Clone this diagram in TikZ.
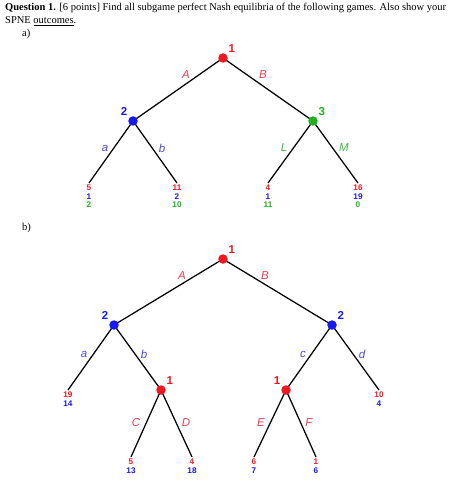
\documentclass[tikz,border=0pt]{standalone}
\usepackage{fontspec}
\setmainfont{Liberation Serif}
\setsansfont{Liberation Sans}
\usepackage[rgb]{xcolor}
\usepackage{tikz}
\usetikzlibrary{positioning}
\definecolor{pone}{HTML}{F01820}
\definecolor{ptwo}{HTML}{1818F0}
\definecolor{pthree}{HTML}{20B020}
\definecolor{moveone}{HTML}{E8404F}
\definecolor{movetwo}{HTML}{4848E0}
\definecolor{movethree}{HTML}{40B840}

\tikzset{
    branch/.style={black, line width=1.25pt},
    dec/.style={circle, fill, inner sep=0pt, minimum size=9.5pt},
    who/.style={font=\sffamily\bfseries\fontsize{11.5}{11.5}\selectfont, inner sep=2pt},
    act/.style={font=\sffamily\itshape\fontsize{11.5}{11.5}\selectfont},
    pay/.style={font=\sffamily\bfseries\fontsize{8.2}{8.7}\selectfont, align=center, anchor=north, inner sep=1.5pt},
    head/.style={font=\fontsize{10.5}{12}\selectfont, anchor=west, inner sep=0pt},
}

\begin{document}
\begin{tikzpicture}[x=1pt, y=-1pt]

\useasboundingbox (0,0) rectangle (474,497);

% Question text
\node[head] (qline) at (5,8) {\textbf{Question 1.} [6 points] Find all subgame perfect Nash equilibria of the following games. Also show your};
\node[head] (qsecond) at (5,21) {SPNE \underline{outcomes}.};
\node[head] (parta) at (22,34) {a)};
\node[head] (partb) at (22,228) {b)};

% Game a)
\coordinate (aroot) at (223,58);
\coordinate (atwo) at (133,121);
\coordinate (athree) at (313,121);
\coordinate (aleafa) at (89,183);
\coordinate (aleafb) at (177,183);
\coordinate (aleafL) at (268,183);
\coordinate (aleafM) at (358,183);

\draw[branch] (aroot) -- (atwo);
\draw[branch] (aroot) -- (athree);
\draw[branch] (atwo) -- (aleafa);
\draw[branch] (atwo) -- (aleafb);
\draw[branch] (athree) -- (aleafL);
\draw[branch] (athree) -- (aleafM);

\node[dec, pone, label={[who, pone]45:1}] (arootdot) at (aroot) {};
\node[dec, ptwo, label={[who, ptwo]135:2}] (atwodot) at (atwo) {};
\node[dec, pthree, label={[who, pthree]45:3}] (athreedot) at (athree) {};

\node[act, moveone] (amoveA) at (186,75) {A};
\node[act, moveone] (amoveB) at (263,75) {B};
\node[act, movetwo] (amovea) at (105,148) {a};
\node[act, movetwo] (amoveb) at (162,148) {b};
\node[act, movethree] (amoveL) at (284,148) {L};
\node[act, movethree] (amoveM) at (344,148) {M};

\node[pay] (apaya) at (aleafa) {\textcolor{pone}{5}\\\textcolor{ptwo}{1}\\\textcolor{pthree}{2}};
\node[pay] (apayb) at (aleafb) {\textcolor{pone}{11}\\\textcolor{ptwo}{2}\\\textcolor{pthree}{10}};
\node[pay] (apayL) at (aleafL) {\textcolor{pone}{4}\\\textcolor{ptwo}{1}\\\textcolor{pthree}{11}};
\node[pay] (apayM) at (aleafM) {\textcolor{pone}{16}\\\textcolor{ptwo}{19}\\\textcolor{pthree}{0}};

% Game b)
\coordinate (broot) at (223,259);
\coordinate (btwoL) at (114,325);
\coordinate (btwoR) at (332,325);
\coordinate (boneL) at (161,390);
\coordinate (boneR) at (286,390);
\coordinate (bleafa) at (68,390);
\coordinate (bleafd) at (379,390);
\coordinate (bleafC) at (131,457);
\coordinate (bleafD) at (192,457);
\coordinate (bleafE) at (254,457);
\coordinate (bleafF) at (316,457);

\draw[branch] (broot) -- (btwoL);
\draw[branch] (broot) -- (btwoR);
\draw[branch] (btwoL) -- (bleafa);
\draw[branch] (btwoL) -- (boneL);
\draw[branch] (btwoR) -- (boneR);
\draw[branch] (btwoR) -- (bleafd);
\draw[branch] (boneL) -- (bleafC);
\draw[branch] (boneL) -- (bleafD);
\draw[branch] (boneR) -- (bleafE);
\draw[branch] (boneR) -- (bleafF);

\node[dec, pone, label={[who, pone]45:1}] (brootdot) at (broot) {};
\node[dec, ptwo, label={[who, ptwo]135:2}] (btwoLdot) at (btwoL) {};
\node[dec, ptwo, label={[who, ptwo]45:2}] (btwoRdot) at (btwoR) {};
\node[dec, pone, label={[who, pone]45:1}] (boneLdot) at (boneL) {};
\node[dec, pone, label={[who, pone]135:1}] (boneRdot) at (boneR) {};

\node[act, moveone] (bmoveA) at (182,276) {A};
\node[act, moveone] (bmoveB) at (265,276) {B};
\node[act, movetwo] (bmovea) at (84,354) {a};
\node[act, movetwo] (bmoveb) at (144,354) {b};
\node[act, movetwo] (bmovec) at (303,354) {c};
\node[act, movetwo] (bmoved) at (362,354) {d};
\node[act, moveone] (bmoveC) at (136,423) {C};
\node[act, moveone] (bmoveD) at (186,423) {D};
\node[act, moveone] (bmoveE) at (261,423) {E};
\node[act, moveone] (bmoveF) at (309,423) {F};

\node[pay] (bpaya) at (bleafa) {\textcolor{pone}{19}\\\textcolor{ptwo}{14}};
\node[pay] (bpayd) at (bleafd) {\textcolor{pone}{10}\\\textcolor{ptwo}{4}};
\node[pay] (bpayC) at (bleafC) {\textcolor{pone}{5}\\\textcolor{ptwo}{13}};
\node[pay] (bpayD) at (bleafD) {\textcolor{pone}{4}\\\textcolor{ptwo}{18}};
\node[pay] (bpayE) at (bleafE) {\textcolor{pone}{6}\\\textcolor{ptwo}{7}};
\node[pay] (bpayF) at (bleafF) {\textcolor{pone}{1}\\\textcolor{ptwo}{6}};

\end{tikzpicture}
\end{document}
